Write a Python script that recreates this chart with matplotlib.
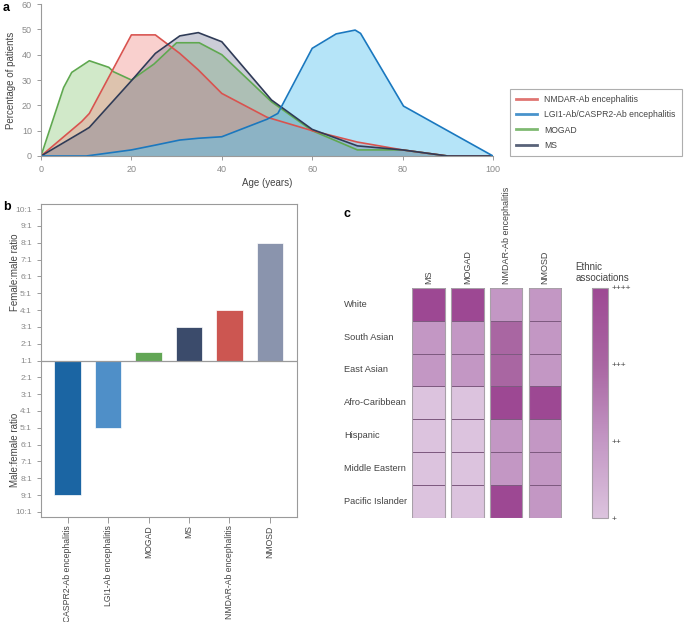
import numpy as np
import matplotlib
matplotlib.use("Agg")
import matplotlib.pyplot as plt
from matplotlib.colors import LinearSegmentedColormap, Normalize
from matplotlib.cm import ScalarMappable
import matplotlib.transforms as mtransforms

plt.rcParams['font.family'] = ['Liberation Sans', 'DejaVu Sans']

# ---- panel a: age distribution ----
age_nmdar = [0, 9, 10.7, 20, 25.3, 30.7, 34.8, 40, 50, 60, 70, 80, 90, 100]
pct_nmdar = [0, 13.6, 16.8, 47.8, 47.8, 40.5, 34, 24.7, 15.3, 10, 5.5, 2.4, 0, 0]

age_lgi1 = [0, 10, 20, 25.3, 30.7, 34.8, 40, 50, 52.4, 60, 65.3, 69.5, 70.7, 80.2, 100]
pct_lgi1 = [0, 0, 2.4, 4.3, 6.3, 7, 7.6, 14.5, 16.8, 42.5, 48.2, 49.7, 48.4, 19.7, 0]

age_mogad = [0, 5, 6.8, 10.7, 15, 16, 20, 25, 30, 35, 40, 51, 60, 70, 80, 90, 100]
pct_mogad = [0, 27, 33, 37.6, 35, 33.3, 30, 36.3, 44.7, 44.7, 40, 21.4, 10, 2.4, 2.4, 0, 0]

age_ms = [0, 9.8, 10.7, 20, 25.3, 30.7, 34.8, 40, 51, 60, 70, 80, 90, 100]
pct_ms = [0, 10.3, 11.3, 29.7, 40.5, 47.4, 48.7, 45.1, 22.1, 10.5, 4, 2.4, 0, 0]

# ---- panel b: sex ratio ----
cats_b = ['CASPR2-Ab encephalitis', 'LGI1-Ab encephalitis', 'MOGAD', 'MS',
          'NMDAR-Ab encephalitis', 'NMOSD']
ratio_b = [9, 5, 1.5, 3, 4, 8]
female_more = [False, False, True, True, True, True]
colors_b = ['#1b65a3', '#4f8fc8', '#62a655', '#3b4b6b', '#cc5651', '#8a94ad']

# ---- panel c: ethnic associations ----
ethnic = ['White', 'South Asian', 'East Asian', 'Afro-Caribbean', 'Hispanic',
          'Middle Eastern', 'Pacific Islander']
diseases_c = ['MS', 'MOGAD', 'NMDAR-Ab encephalitis', 'NMOSD']
ms_assoc = [4, 2, 2, 1, 1, 1, 1]
mogad_assoc = [4, 2, 2, 1, 1, 1, 1]
nmdar_assoc = [2, 3, 3, 4, 2, 2, 4]
nmosd_assoc = [2, 2, 2, 4, 2, 2, 2]
assoc_labels = ['+', '++', '+++', '++++']

W, H = 685, 622
fig = plt.figure(figsize=(W / 100, H / 100), dpi=100)


def box(x0, y0, x1, y1):
    return [x0 / W, 1 - y1 / H, (x1 - x0) / W, (y1 - y0) / H]


grey = '#9a9a9a'
tgrey = '#8a8a8a'
dark = '#444444'

# ================= a =================
ax = fig.add_axes(box(41, 4, 493, 156))
series = [
    ('NMDAR-Ab encephalitis', age_nmdar, pct_nmdar, '#d9534f', '#f08a86', 0.4),
    ('LGI1-Ab/CASPR2-Ab encephalitis', age_lgi1, pct_lgi1, '#1a78bf', '#5cc4f0', 0.45),
    ('MOGAD', age_mogad, pct_mogad, '#5fa84f', '#8cc97a', 0.4),
    ('MS', age_ms, pct_ms, '#2f3b57', '#6a7290', 0.35),
]
fill_order = [2, 0, 3, 1]
for i in fill_order:
    _, x, y, lc, fc, a = series[i]
    ax.fill_between(x, y, 0, color=fc, alpha=a, lw=0)
for i in fill_order:
    name, x, y, lc, fc, a = series[i]
    ax.plot(x, y, color=lc, lw=1.2)
ax.set_xlim(0, 100)
ax.set_ylim(0, 60)
ax.set_xticks([0, 20, 40, 60, 80, 100])
ax.set_yticks(range(0, 61, 10))
for s in ['top', 'right']:
    ax.spines[s].set_visible(False)
for s in ['left', 'bottom']:
    ax.spines[s].set_color(grey)
    ax.spines[s].set_linewidth(0.8)
ax.tick_params(colors=grey, labelcolor=tgrey, labelsize=6.5, length=3, width=0.7)
ax.set_xlabel('Age (years)', fontsize=7, color=dark, labelpad=3)
ax.set_ylabel('Percentage of patients', fontsize=7, color=dark, labelpad=4)

handles = [plt.Line2D([], [], color=s[3], lw=2, alpha=0.8) for s in series]
leg = fig.legend(handles, [s[0] for s in series], loc='lower left',
                 bbox_to_anchor=(510 / W, 1 - 156 / H), fontsize=6.2,
                 frameon=True, fancybox=False, edgecolor=grey, handlelength=2.4,
                 labelspacing=0.75, borderpad=0.7, handletextpad=0.9, borderaxespad=0)
leg.get_frame().set_linewidth(0.8)
for t in leg.get_texts():
    t.set_color(dark)

# ================= b =================
bx = fig.add_axes(box(41, 204, 297, 517))
xpos = np.arange(len(cats_b))
heights = [(r - 1) if f else -(r - 1) for r, f in zip(ratio_b, female_more)]
bx.bar(xpos, heights, width=0.66, color=colors_b, edgecolor='white', linewidth=0.5)
bx.axhline(0, color=grey, lw=0.9)
bx.set_xlim(-0.66, 5.67)
bx.set_ylim(-9.3, 9.3)
yt = np.arange(-9, 10)
bx.set_yticks(yt)
bx.set_yticklabels([f'{abs(v) + 1}:1' for v in yt])
bx.set_xticks(xpos)
bx.set_xticklabels(cats_b, rotation=90)
for s in bx.spines.values():
    s.set_color(grey)
    s.set_linewidth(0.8)
bx.tick_params(axis='y', colors=grey, labelcolor=tgrey, labelsize=6, length=3, width=0.7)
bx.tick_params(axis='x', colors=grey, labelcolor=dark, labelsize=6.2, length=4, width=0.7, pad=2)
fig.text(15 / W, 1 - 272 / H, 'Female:male ratio', rotation=90, ha='center', va='center',
         fontsize=7, color=dark)
fig.text(15 / W, 1 - 450 / H, 'Male:female ratio', rotation=90, ha='center', va='center',
         fontsize=7, color=dark)

# ================= c =================
cmap = LinearSegmentedColormap.from_list('eth', ['#dcc3de', '#c397c4', '#a966a2', '#9d4893'])
norm = Normalize(1, 4)
cx = fig.add_axes(box(411.7, 287.7, 562, 518))
cols = [ms_assoc, mogad_assoc, nmdar_assoc, nmosd_assoc]
gap = 0.2
centers = []
for i, vals in enumerate(cols):
    x0 = i * (1 + gap)
    centers.append(x0 + 0.5)
    cx.pcolormesh([x0, x0 + 1], np.arange(len(ethnic) + 1),
                  np.array(vals).reshape(-1, 1), cmap=cmap, norm=norm,
                  edgecolors='#7e5a80', linewidth=0.6)
    cx.add_patch(plt.Rectangle((x0, 0), 1, len(ethnic), fill=False,
                               edgecolor='#a8a0a8', lw=0.8))
cx.set_xlim(-0.02, 4 + 3 * gap + 0.02)
cx.set_ylim(len(ethnic), 0)
for s in cx.spines.values():
    s.set_visible(False)
cx.xaxis.tick_top()
cx.set_xticks(centers)
cx.set_xticklabels(diseases_c, rotation=90, fontsize=6.5, color=dark)
cx.tick_params(axis='x', length=0, pad=3)
cx.set_yticks([])
tr = mtransforms.blended_transform_factory(fig.transFigure, cx.transData)
for j, name in enumerate(ethnic):
    cx.text(344 / W, j + 0.5, name, transform=tr, ha='left', va='center',
            fontsize=6.7, color=dark)

cax = fig.add_axes(box(592, 287.7, 607.7, 518))
cb = fig.colorbar(ScalarMappable(norm=norm, cmap=cmap), cax=cax, ticks=[1, 2, 3, 4])
cb.set_ticklabels(assoc_labels)
cb.outline.set_edgecolor('#a8a0a8')
cb.outline.set_linewidth(0.8)
cax.tick_params(labelsize=6, colors=grey, labelcolor=dark, length=0, pad=3)
fig.text(575.7 / W, 1 - 262 / H, 'Ethnic\nassociations', ha='left', va='top',
         fontsize=7, color=dark, linespacing=1.1)

# panel letters
fig.text(3 / W, 1 - 2 / H, 'a', fontsize=9, fontweight='bold', va='top')
fig.text(3 / W, 1 - 201 / H, 'b', fontsize=9, fontweight='bold', va='top')
fig.text(343 / W, 1 - 208 / H, 'c', fontsize=9, fontweight='bold', va='top')

fig.savefig('out.png', dpi=100)
